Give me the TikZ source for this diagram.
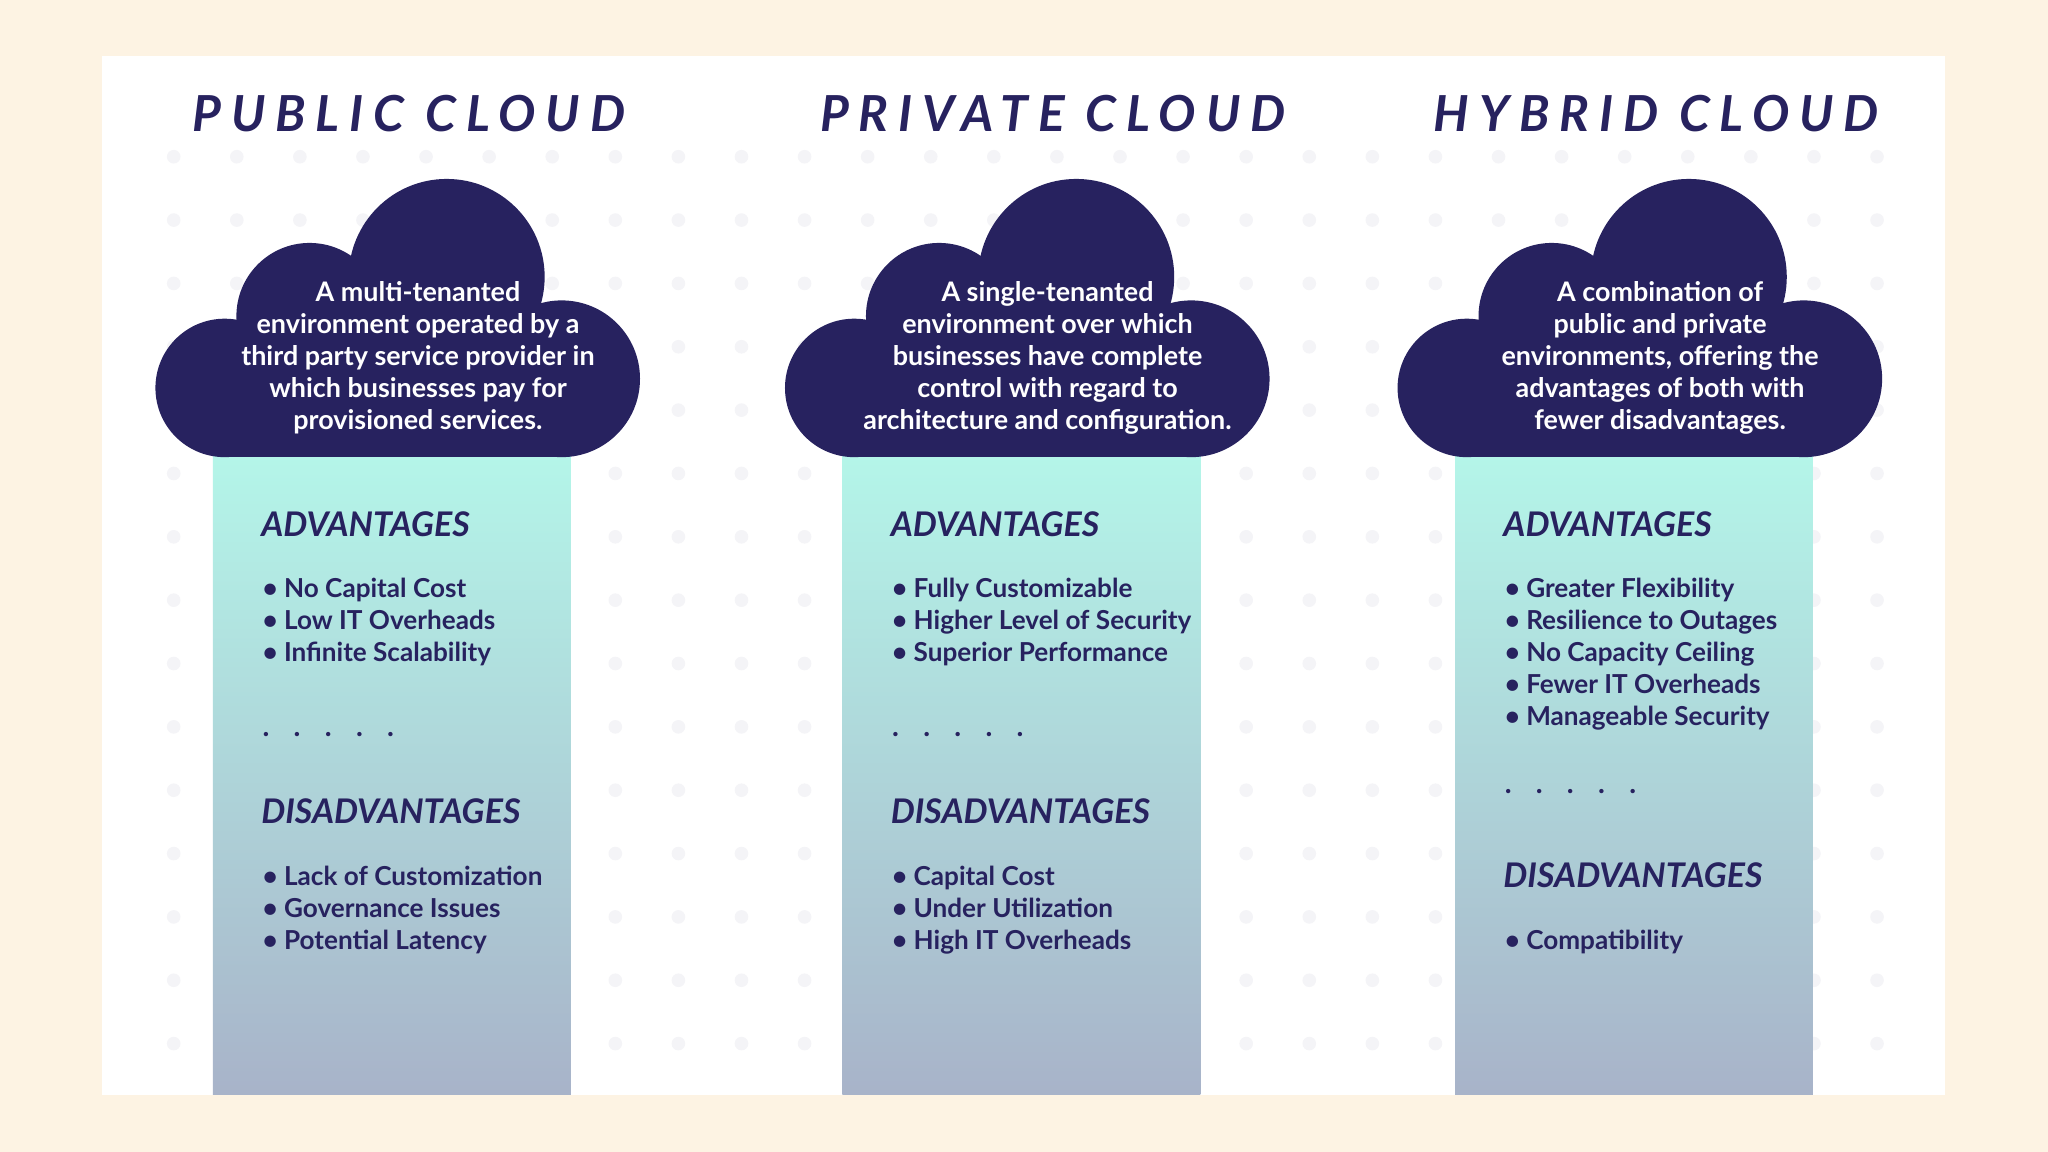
\documentclass[tikz,border=0pt]{standalone}
\usepackage{fontspec}
\setmainfont{Lato}
\definecolor{cream}{HTML}{FDF3E3}
\definecolor{navy}{HTML}{27225F}
\definecolor{aqua}{HTML}{B4F6E9}
\definecolor{aquamid}{HTML}{ADE3DD}
\definecolor{greyblue}{HTML}{A8B3C9}
\definecolor{dotc}{HTML}{F4F4F7}
\begin{document}
\begin{tikzpicture}[x=0.5pt,y=-0.5pt,
  title/.style={font=\fontsize{19}{22}\selectfont\bfseries\itshape\addfontfeatures{LetterSpace=20}, text=navy},
  cloudtxt/.style={font=\fontsize{10.3}{12.25}\selectfont\bfseries, text=white, align=center},
  head/.style={font=\fontsize{13}{14}\selectfont\bfseries\itshape, text=navy, anchor=west},
  item/.style={font=\fontsize{10}{12.25}\selectfont\bfseries, text=navy, anchor=west, align=left},
  sep/.style={font=\fontsize{11}{12}\selectfont\bfseries, text=navy, anchor=west}]
\fill[cream] (0,0) rectangle (1568,882);
\useasboundingbox (0,0) rectangle (1568,882);
\fill[white] (78,43) rectangle (1489,838);
% faint dot grid
\foreach \i in {0,...,27}{\foreach \j in {0,...,14}{
  \fill[dotc] (133+48.3*\i,120+48.5*\j) circle[radius=2.6pt];}}
% columns and clouds
\foreach \c in {115,597,1066}{
  \shade[top color=aqua, middle color=aquamid, bottom color=greyblue]
    (\c+48,345) rectangle (\c+322,838);
  \fill[navy] (\c+227,212) circle[radius=37.5pt];
  \fill[navy] (\c+122,242) circle[radius=28pt];
  \fill[navy] (\c+57,297) circle[radius=26.5pt];
  \fill[navy] (\c+315,290) circle[radius=30pt];
  \fill[navy] (\c+57,297) rectangle (\c+315,350);
  \fill[navy] (\c+122,242) rectangle (\c+290,350);
  \fill[navy] (\c+227,212) rectangle (\c+290,350);
}
% titles
\node[title] (t1) at (313,87) {PUBLIC CLOUD};
\node[title] (t2) at (806,87) {PRIVATE CLOUD};
\node[title] (t3) at (1268,87) {HYBRID CLOUD};
% cloud texts
\node[cloudtxt] (c1) at (320,274) {A multi-tenanted\\environment operated by a\\third party service provider in\\which businesses pay for\\provisioned services.};
\node[cloudtxt] (c2) at (802,274) {A single-tenanted\\environment over which\\businesses have complete\\control with regard to\\architecture and configuration.};
\node[cloudtxt] (c3) at (1271,274) {A combination of\\public and private\\environments, offering the\\advantages of both with\\fewer disadvantages.};
% public
\node[head] (a1) at (193,401) {ADVANTAGES};
\node[item] (a1l) at (194,476) {\textbullet\ No Capital Cost\\\textbullet\ Low IT Overheads\\\textbullet\ Infinite Scalability};
\node[sep] (s1) at (194,562) {.\hspace{9.3pt}.\hspace{9.3pt}.\hspace{9.3pt}.\hspace{9.3pt}.};
\node[head] (d1) at (193,621) {DISADVANTAGES};
\node[item] (d1l) at (194,697) {\textbullet\ Lack of Customization\\\textbullet\ Governance Issues\\\textbullet\ Potential Latency};
% private
\node[head] (a2) at (675,401) {ADVANTAGES};
\node[item] (a2l) at (676,476) {\textbullet\ Fully Customizable\\\textbullet\ Higher Level of Security\\\textbullet\ Superior Performance};
\node[sep] (s2) at (676,562) {.\hspace{9.3pt}.\hspace{9.3pt}.\hspace{9.3pt}.\hspace{9.3pt}.};
\node[head] (d2) at (675,621) {DISADVANTAGES};
\node[item] (d2l) at (676,697) {\textbullet\ Capital Cost\\\textbullet\ Under Utilization\\\textbullet\ High IT Overheads};
% hybrid
\node[head] (a3) at (1144,401) {ADVANTAGES};
\node[item] (a3l) at (1145,501) {\textbullet\ Greater Flexibility\\\textbullet\ Resilience to Outages\\\textbullet\ No Capacity Ceiling\\\textbullet\ Fewer IT Overheads\\\textbullet\ Manageable Security};
\node[sep] (s3) at (1145,606) {.\hspace{9.3pt}.\hspace{9.3pt}.\hspace{9.3pt}.\hspace{9.3pt}.};
\node[head] (d3) at (1144,670) {DISADVANTAGES};
\node[item] (d3l) at (1145,721) {\textbullet\ Compatibility};
\end{tikzpicture}
\end{document}
